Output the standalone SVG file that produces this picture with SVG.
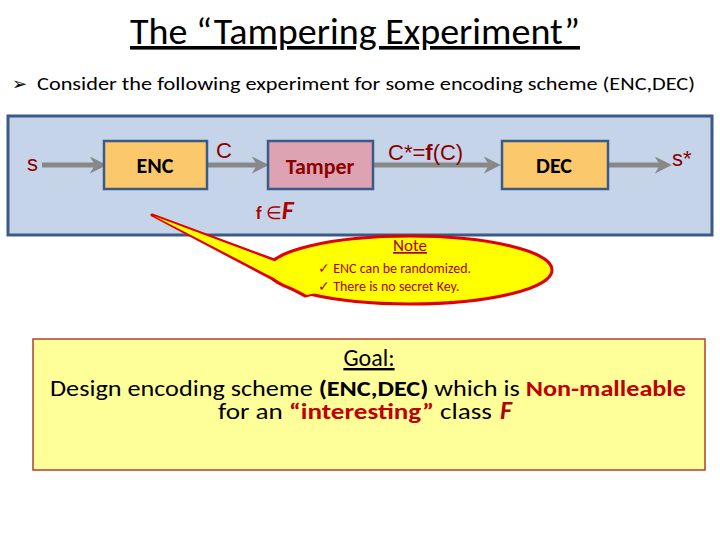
<svg xmlns="http://www.w3.org/2000/svg" width="720" height="540" viewBox="0 0 720 540">
<defs>
<style>
text{font-family:Calibri,"Carlito","Liberation Sans",sans-serif}
.box{stroke:#3b5a86;stroke-width:2.5}
.arr{stroke:#888;stroke-width:5;fill:none}
.lbl{fill:#8b0000;font-family:"Liberation Sans",sans-serif;font-size:22px}
.bt{font-size:22px;font-weight:bold;text-anchor:middle}
</style>
<marker id="ah" viewBox="0 0 10 10" refX="6" refY="5" markerWidth="3.4" markerHeight="3.4" orient="auto"><path d="M0,0 L10,5 L0,10 L3,5 z" fill="#888"/></marker>
</defs>
<rect width="720" height="540" fill="#fff"/>
<text x="130" y="44" font-size="36" textLength="450" lengthAdjust="spacingAndGlyphs" text-decoration="underline">The “Tampering Experiment”</text>
<text x="12" y="90" font-size="18" font-family="DejaVu Sans">➢</text>
<text x="37" y="90" font-size="19" textLength="658" lengthAdjust="spacingAndGlyphs">Consider the following experiment for some encoding scheme  (ENC,DEC)</text>
<rect x="8" y="116" width="704" height="119" fill="#c6d4ea" stroke="#3b5a86" stroke-width="3"/>
<g id="connectors">
<path class="arr" d="M42,165 H100" marker-end="url(#ah)"/>
<path class="arr" d="M208,165 H262" marker-end="url(#ah)"/>
<path class="arr" d="M374,165 H494" marker-end="url(#ah)"/>
<path class="arr" d="M609,165 H665" marker-end="url(#ah)"/>
</g>
<g id="s"><text class="lbl" x="27" y="171">s</text></g>
<g id="enc"><rect class="box" x="104" y="141" width="103" height="48" fill="#fbc96c"/><text class="bt" x="155" y="173">ENC</text></g>
<g id="c"><text class="lbl" x="216" y="158">C</text></g>
<g id="tamper"><rect class="box" x="268" y="141" width="105" height="48" fill="#dea3b3"/><text class="bt" x="320" y="174" fill="#8b0000">Tamper</text></g>
<g id="cstar"><text class="lbl" x="388" y="160">C*=<tspan font-weight="bold">f</tspan>(C)</text></g>
<g id="dec"><rect class="box" x="502" y="141" width="106" height="48" fill="#fbc96c"/><text class="bt" x="554" y="173">DEC</text></g>
<g id="sstar"><text class="lbl" x="672" y="166">s*</text></g>
<g id="callout">
<path d="M152,215 L345,286 L305,296 Z" fill="#ffff00" stroke="#e00000" stroke-width="3" stroke-linejoin="round"/>
<ellipse cx="410" cy="270" rx="142" ry="34" fill="#ffff00" stroke="#e00000" stroke-width="3"/>
<path d="M154,216 L343,287 L307,295 Z" fill="#ffff00"/>
<text x="410" y="251" font-size="17" fill="#b00000" text-anchor="middle" text-decoration="underline">Note</text>
<text x="318" y="273" font-size="14" fill="#b00000">✓  ENC can be randomized.</text>
<text x="318" y="291" font-size="14" fill="#b00000">✓  There is no secret Key.</text>
</g>
<g id="fclass"><text x="256" y="219" fill="#b00000" font-size="18" font-family="Liberation Serif,serif" font-weight="bold">f <tspan font-weight="normal">∈</tspan><tspan font-style="italic" font-size="26">F</tspan></text></g>
<g id="goal">
<rect x="33" y="339" width="672" height="131" fill="#ffff99" stroke="#b04030" stroke-width="1.5"/>
<text x="369" y="366" font-size="24" text-anchor="middle" text-decoration="underline">Goal:</text>
<text x="50" y="396" font-size="23" textLength="636" lengthAdjust="spacingAndGlyphs">Design encoding scheme <tspan font-weight="bold">(ENC,DEC)</tspan>  which is <tspan font-weight="bold" fill="#c00000">Non-malleable</tspan></text>
<text x="218" y="419" font-size="23" textLength="274" lengthAdjust="spacingAndGlyphs">for an <tspan font-weight="bold" fill="#c00000">“interesting”</tspan>  class</text>
<text x="500" y="419" fill="#b00000" font-family="Liberation Serif,serif" font-style="italic" font-weight="bold" font-size="26">F</text>
</g>
</svg>
